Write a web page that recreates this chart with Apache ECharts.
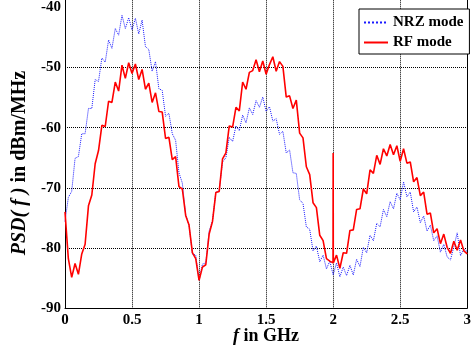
<!DOCTYPE html>
<html>
<head>
<meta charset="utf-8">
<script src="https://cdn.jsdelivr.net/npm/echarts@6/dist/echarts.min.js"></script>
<style>
html,body{margin:0;padding:0;background:#fff;}
#chart{width:474px;height:348px;}
</style>
</head>
<body>
<div id="chart"></div>
<script>
// Frequency grid (GHz), step 0.025 from 0 to 3
const freqGHz = Array.from({length: 121}, (_, i) => +(i * 0.025).toFixed(3));

// NRZ mode PSD values (dBm/MHz)
const nrzValues = [
  -75.6, -71.6, -70.6, -65.1, -64.8, -61.0, -61.0, -56.8, -56.8, -52.0,
  -52.3, -48.4, -49.1, -45.4, -46.8, -43.5, -44.6, -41.3, -43.5, -41.7,
  -43.7, -41.8, -44.4, -42.1, -46.5, -47.0, -50.6, -49.0, -53.5, -53.8,
  -58.1, -57.6, -61.0, -62.1, -67.5, -69.2, -74.5, -76.2, -81.0, -81.2,
  -85.4, -82.7, -82.5, -77.2, -75.5, -70.7, -70.5, -65.7, -65.0, -61.6,
  -62.3, -59.7, -60.5, -57.9, -59.2, -56.7, -57.8, -55.5, -56.6, -54.9,
  -57.3, -56.5, -58.9, -58.5, -61.1, -60.6, -64.2, -63.7, -67.5, -67.6,
  -72.0, -72.6, -76.5, -76.9, -80.5, -79.7, -82.3, -81.2, -83.5, -82.2,
  -84.5, -82.5, -84.8, -83.2, -84.6, -82.9, -84.5, -81.9, -83.1, -79.9,
  -80.8, -77.9, -78.8, -75.9, -76.5, -73.6, -74.8, -72.3, -73.5, -70.9,
  -72.0, -69.0, -71.5, -70.7, -74.0, -73.2, -75.8, -74.7, -77.2, -76.2,
  -78.8, -78.0, -80.7, -79.4, -81.5, -82.0, -79.8, -77.5, -81.3, -80.2,
  -80.6
];

// RF mode PSD values (dBm/MHz)
const rfValues = [
  -74.0, -81.8, -84.9, -82.6, -84.4, -81.0, -79.4, -73.0, -71.2, -66.0,
  -63.8, -59.6, -59.8, -55.6, -55.8, -52.4, -53.9, -49.6, -51.8, -49.2,
  -51.0, -49.4, -52.0, -50.3, -53.6, -52.6, -55.8, -54.2, -57.3, -57.4,
  -61.8, -61.6, -65.3, -64.8, -69.8, -70.2, -74.6, -76.2, -80.8, -81.8,
  -85.4, -83.2, -82.8, -77.7, -75.6, -70.8, -70.6, -65.2, -64.2, -59.7,
  -59.9, -56.6, -57.2, -52.4, -53.6, -50.8, -50.5, -48.7, -50.7, -48.9,
  -51.1, -49.5, -48.2, -50.6, -49.0, -49.8, -54.9, -54.7, -56.8, -55.4,
  -60.9, -61.7, -66.5, -67.8, -72.5, -73.3, -77.9, -78.8, -81.8, -82.2,
  -82.8, -81.2, -83.4, -80.8, -80.9, -77.1, -77.0, -73.6, -73.5, -70.2,
  -71.0, -67.0, -67.6, -64.6, -66.1, -63.5, -64.7, -62.8, -64.5, -63.0,
  -65.6, -63.5, -65.9, -65.7, -69.0, -68.3, -71.3, -70.7, -74.4, -74.2,
  -77.5, -76.8, -79.3, -77.7, -79.9, -80.9, -78.9, -80.4, -78.7, -80.5,
  -81.0
];

// Narrow spike in the RF curve at 2 GHz
const rfSpikeFreq = [1.999, 2.0, 2.001];
const rfSpikeValues = [-82.5, -64.2, -82.5];

// Tick values
const xTicks = [0, 0.5, 1, 1.5, 2, 2.5, 3];
const yTicks = [-90, -80, -70, -60, -50, -40];

const nrzData = freqGHz.map((f, i) => [f, nrzValues[i]]);
const rfData = freqGHz.map((f, i) => [f, rfValues[i]])
  .concat(rfSpikeFreq.map((f, i) => [f, rfSpikeValues[i]]))
  .sort((a, b) => a[0] - b[0]);

const serif = 'Liberation Serif, Times New Roman, serif';
const labelStyle = {fontFamily: serif, fontWeight: 'bold', fontSize: 15, color: '#000'};

const chart = echarts.init(document.getElementById('chart'), null, {renderer: 'canvas'});
chart.setOption({
  animation: false,
  backgroundColor: '#fff',
  grid: {left: 65, right: 4, top: 0, bottom: 40, containLabel: false},
  legend: {
    orient: 'vertical',
    left: 359, top: 9,
    padding: [6, 6, 4, 4],
    itemWidth: 24, itemHeight: 14, itemGap: 5,
    backgroundColor: '#fff',
    borderColor: '#000', borderWidth: 1,
    itemStyle: {opacity: 0},
    textStyle: {fontFamily: serif, fontWeight: 'bold', fontSize: 15, color: '#000'},
    data: ['NRZ mode', 'RF mode']
  },
  xAxis: {
    type: 'value', min: xTicks[0], max: xTicks[xTicks.length - 1], interval: 0.5,
    axisLine: {show: true, lineStyle: {color: '#000', width: 1}},
    axisTick: {show: false},
    axisLabel: Object.assign({margin: 5, formatter: v => String(v)}, labelStyle),
    splitLine: {show: true, lineStyle: {color: '#000', type: 'dotted', width: 1}}
  },
  yAxis: [{
    type: 'value', min: yTicks[0], max: -38.8, interval: 10,
    axisLine: {show: true, lineStyle: {color: '#000', width: 1}},
    axisTick: {show: false},
    axisLabel: Object.assign({margin: 4, formatter: v => (yTicks.indexOf(Math.round(v * 10) / 10) >= 0 ? String(v) : '')}, labelStyle),
    splitLine: {show: true, lineStyle: {
      color: ['rgba(0,0,0,0)', '#000', '#000', '#000', '#000', 'rgba(0,0,0,0)', 'rgba(0,0,0,0)'],
      type: 'dotted', width: 1}}
  }, {
    type: 'value', min: yTicks[0], max: -38.8, position: 'right',
    axisLine: {show: true, onZero: false, lineStyle: {color: '#000', width: 1}},
    axisTick: {show: false}, axisLabel: {show: false}, splitLine: {show: false}
  }],
  graphic: [{
    type: 'text', x: 20, y: 163, rotation: Math.PI / 2,
    style: {
      text: '{i|PSD( f )}{n| in dBm/MHz}',
      align: 'center', verticalAlign: 'middle',
      rich: {
        i: {fontFamily: serif, fontWeight: 'bold', fontStyle: 'italic', fontSize: 20, fill: '#000'},
        n: {fontFamily: serif, fontWeight: 'bold', fontSize: 20, fill: '#000'}
      }
    }
  }, {
    type: 'text', x: 266, y: 336,
    style: {
      text: '{i|f}{n| in GHz}',
      align: 'center', verticalAlign: 'middle',
      rich: {
        i: {fontFamily: serif, fontWeight: 'bold', fontStyle: 'italic', fontSize: 18, fill: '#000'},
        n: {fontFamily: serif, fontWeight: 'bold', fontSize: 18, fill: '#000'}
      }
    }
  }],
  series: [{
    name: 'NRZ mode', type: 'line', data: nrzData, symbol: 'none',
    lineStyle: {color: '#1a1aff', width: 1, type: 'dotted'},
    itemStyle: {color: '#1a1aff'}, z: 2
  }, {
    name: 'RF mode', type: 'line', data: rfData, symbol: 'none',
    lineStyle: {color: '#ff0000', width: 1.6, type: 'solid'},
    itemStyle: {color: '#ff0000'}, z: 3
  }]
});
</script>
</body>
</html>
